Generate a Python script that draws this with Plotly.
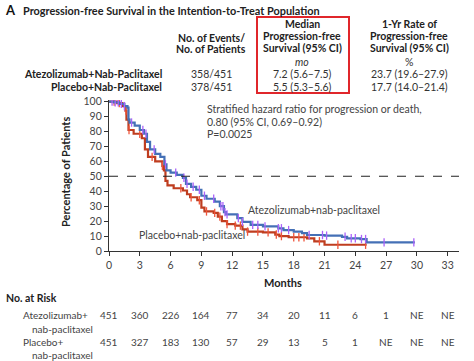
import numpy as np
import plotly.graph_objects as go

# ---------------- data ----------------
atezo_t = [0, 0.5, 1.0, 1.5, 1.8, 1.9, 2.0, 2.5, 3.0, 3.4, 3.7, 4.0, 4.5, 5.0, 5.4, 5.6, 6.0, 6.6, 7.2, 7.5,
           8.0, 8.5, 9.0, 9.5, 10.3, 10.8, 11.2, 11.4, 12.5, 13.0, 13.8, 15.0, 16.5, 17.0, 18.0, 18.8, 19.3,
           21.0, 22.7, 23.2, 24.5, 25.1, 29.8]
atezo_s = [100, 99.5, 98.5, 97, 96, 88, 86, 84, 81, 78.5, 73, 68, 65, 63, 58, 54, 52.5, 51, 49, 45,
           43, 41, 37, 35, 33, 30, 26, 24.5, 22, 19.5, 17.5, 16.5, 15.2, 14, 13, 12, 10.7,
           10.3, 9.5, 8.5, 8.0, 5.8, 5.8]
atezo_cens = [0.3, 0.6, 0.9, 1.2, 1.5, 2.2, 3.3, 3.6, 4.4, 5.5, 6.5, 7.3, 7.6, 8.2, 8.8, 9.3, 10.2, 10.9,
              11.1, 11.3, 11.5, 12.6, 13.0, 14.0, 14.5, 15.2, 16.5, 16.8, 17.5, 19.5, 20.8, 21.2, 23.0,
              23.6, 24.0, 24.6, 25.0, 26.8, 29.7]

placebo_t = [0, 0.8, 1.3, 1.6, 1.7, 1.9, 2.4, 3.2, 3.5, 3.8, 4.5, 5.2, 5.35, 5.5, 5.7, 6.3, 7.2, 7.6, 7.9,
             8.6, 9.0, 9.3, 10.2, 10.6, 11.0, 11.5, 12.3, 13.0, 13.5, 15.0, 16.2, 16.6, 17.5, 19.3, 20.0,
             21.0, 25.1]
placebo_s = [100, 99, 97, 94, 88, 81, 78.5, 75.5, 68, 63, 60, 57, 54, 47, 44, 42, 40.5, 38, 36,
             34, 29, 26.5, 25.5, 23, 20, 18, 17, 14.5, 13, 12.5, 11.0, 10, 9.2, 8.5, 6.5,
             4.2, 4.2]
placebo_cens = [0.5, 1.0, 1.65, 1.95, 3.0, 4.2, 5.2, 7.0, 8.0, 8.8, 9.5, 10.3, 10.8, 11.5, 12.3, 12.8,
                13.5, 14.5, 15.5, 16.3, 16.8, 18.0, 18.5, 19.0, 20.5, 22.3, 25.0]

risk_times = [0, 3, 6, 9, 12, 15, 18, 21, 24, 27, 30, 33]
risk_atezo = ["451", "360", "226", "164", "77", "34", "20", "11", "6", "1", "NE", "NE"]
risk_placebo = ["451", "327", "183", "130", "57", "29", "13", "5", "1", "NE", "NE", "NE"]

header_groups = ["Atezolizumab+Nab-Paclitaxel", "Placebo+Nab-Paclitaxel"]
events = ["358/451", "378/451"]
median_pfs = ["7.2 (5.6–7.5)", "5.5 (5.3–5.6)"]
rate_1yr = ["23.7 (19.6–27.9)", "17.7 (14.0–21.4)"]

x_ticks = list(range(0, 34, 3))
y_ticks = list(range(0, 101, 10))

BLUE = "#4470b6"
RED = "#bf3d1f"
FONT = "Lato"
TXT = "#333333"

W, H = 474, 361
L, R, T, B = 109, 15, 100, 110
PW, PH = W - L - R, H - T - B


def px(x):
    return (x - L) / PW


def py(y):
    return (H - B - y) / PH


def step_val(times, surv, t):
    i = np.searchsorted(np.array(times), t, side="right") - 1
    return surv[max(i, 0)]


fig = go.Figure()
for t, s, c, col, name in [(placebo_t, placebo_s, placebo_cens, RED, "Placebo"),
                           (atezo_t, atezo_s, atezo_cens, BLUE, "Atezolizumab")]:
    fig.add_trace(go.Scatter(x=t, y=s, mode="lines", line=dict(color=col, width=2.2, shape="hv"),
                             name=name, showlegend=False, hoverinfo="skip"))
    fig.add_trace(go.Scatter(x=c, y=[step_val(t, s, v) for v in c], mode="markers",
                             marker=dict(symbol="line-ns-open", size=6, line=dict(color=col, width=1.3)),
                             showlegend=False, hoverinfo="skip"))

# dashed median line
fig.add_shape(type="line", xref="x", yref="y", x0=0, x1=34.1, y0=50, y1=50,
              line=dict(color="#222", width=1.1, dash="dash"))

ann = []


def add(text, x, y, size=10.5, anchor="left", color=TXT, **kw):
    ann.append(dict(text=text, x=px(x), y=py(y), xref="paper", yref="paper", showarrow=False,
                    xanchor=anchor, yanchor="middle", font=dict(family=FONT, size=size, color=color), **kw))


add("<b>A</b>", 3, 10, size=13, color="#111")
add("<b>Progression-free Survival in the Intention-to-Treat Population</b>", 20.5, 10, size=10.9, color="#222")

add("<b>No. of Events/</b>", 211, 38, anchor="center", color="#222")
add("<b>No. of Patients</b>", 211, 49.5, anchor="center", color="#222")
for i, line in enumerate(["Median", "Progression-free", "Survival (95% CI)"]):
    add(f"<b>{line}</b>", 302, 24 + i * 12.2, anchor="center", color="#222")
for i, line in enumerate(["1-Yr Rate of", "Progression-free", "Survival (95% CI)"]):
    add(f"<b>{line}</b>", 409, 24 + i * 12.2, anchor="center", color="#222")
add("<i>mo</i>", 302, 62.5, anchor="center")
add("%", 409, 62.5, anchor="center")
for i, g in enumerate(header_groups):
    yy = 74 + i * 12.5
    add(f"<b>{g}</b>", 164, yy, anchor="right", color="#222")
    add(events[i], 211, yy, anchor="center")
    add(median_pfs[i], 302, yy, anchor="center")
    add(rate_1yr[i], 409, yy, anchor="center")

add("Stratified hazard ratio for progression or death,", 205, 109, size=10.5, color="#444")
add("0.80 (95% CI, 0.69–0.92)", 205, 121.5, size=10.5, color="#444")
add("P=0.0025", 205, 133.5, size=10.5, color="#444")

add("Atezolizumab+nab-paclitaxel", 246, 210, size=10.5, color="#444")
add("Placebo+nab-paclitaxel", 137, 235, size=10.5, color="#444")

add("<b>Months</b>", 283, 282, size=11, anchor="center", color="#222")
ann.append(dict(text="<b>Percentage of Patients</b>", x=px(65), y=py(172), xref="paper", yref="paper",
                showarrow=False, textangle=-90, xanchor="center", yanchor="middle",
                font=dict(family=FONT, size=11, color="#222")))

add("<b>No. at Risk</b>", 4, 298, size=10.5, color="#222")
add("Atezolizumab+", 20.5, 315, size=10, color="#444")
add("nab-paclitaxel", 29.5, 328.5, size=10, color="#444")
add("Placebo+", 20.5, 341.5, size=10, color="#444")
add("nab-paclitaxel", 29.5, 355, size=10, color="#444")
for row, yy in [(risk_atezo, 315), (risk_placebo, 341.5)]:
    for t, v in zip(risk_times, row):
        ann.append(dict(text=v, x=t, y=py(yy), xref="x", yref="paper", showarrow=False,
                        xanchor="center", yanchor="middle", font=dict(family=FONT, size=10, color="#444")))

# red box
fig.add_shape(type="rect", xref="paper", yref="paper", x0=px(257), x1=px(349), y0=py(93), y1=py(17),
              line=dict(color="#e0262b", width=2))

fig.update_layout(
    width=W, height=H, margin=dict(l=L, r=R, t=T, b=B, autoexpand=False),
    paper_bgcolor="white", plot_bgcolor="white", annotations=ann,
    font=dict(family=FONT, size=10.5, color=TXT),
    xaxis=dict(range=[0, 34.1], tickvals=x_ticks, ticks="outside", ticklen=4, tickcolor="#333",
               showline=True, linecolor="#333", linewidth=1.3, showgrid=False, zeroline=False,
               automargin=False, tickfont=dict(family=FONT, size=10.5, color="#444")),
    yaxis=dict(range=[0, 101.1], tickvals=y_ticks, ticks="outside", ticklen=4, tickcolor="#333",
               showline=True, linecolor="#333", linewidth=1.3, showgrid=False, zeroline=False,
               automargin=False, tickfont=dict(family=FONT, size=10.5, color="#444")),
)

fig.write_html("out.html", config={"displayModeBar": False},
               post_script="document.body.style.margin='0';document.body.style.overflow='hidden';")
